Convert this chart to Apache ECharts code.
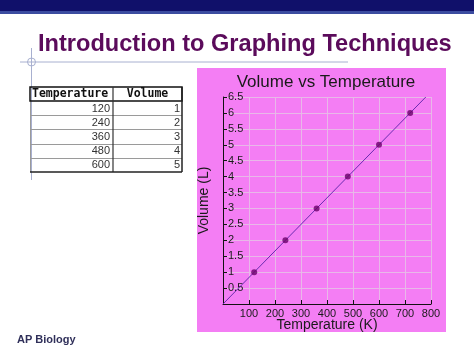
<!DOCTYPE html>
<html><head><meta charset="utf-8">
<script src="https://cdn.jsdelivr.net/npm/echarts@6/dist/echarts.min.js"></script>
<style>html,body{margin:0;padding:0;background:#fff}#c{width:474px;height:355px}</style>
</head><body><div id="c"></div>
<script>
// data
const temperatures = [120, 240, 360, 480, 600, 720];
const volumes = [1, 2, 3, 4, 5, 6];
const tableTemps = [120, 240, 360, 480, 600];
const tableVols = [1, 2, 3, 4, 5];
const tableHeaders = ['Temperature', 'Volume'];
const trendT = [0, 780];
const trendV = [0, 6.5];

const chart = echarts.init(document.getElementById('c'), null, {renderer: 'canvas'});

const g = [];
// top bars
g.push({type:'rect', shape:{x:0,y:0,width:474,height:11}, style:{fill:'#10106a'}, z:0});
g.push({type:'rect', shape:{x:0,y:11,width:474,height:3}, style:{fill:'#3c4ca0'}, z:0});
// slide title
g.push({type:'text', x:38, y:44, style:{text:'Introduction to Graphing Techniques', font:'bold 23.6px "Liberation Sans", Arial, sans-serif', fill:'#5b0b5b', textVerticalAlign:'middle'}, z:2});
// crosshair decorations
g.push({type:'line', shape:{x1:20,y1:62,x2:348,y2:62}, style:{stroke:'#a8b0d0', lineWidth:1}, z:1});
g.push({type:'line', shape:{x1:31.5,y1:48,x2:31.5,y2:180}, style:{stroke:'#a8b0d0', lineWidth:1}, z:1});
g.push({type:'circle', shape:{cx:31.5,cy:62,r:4}, style:{stroke:'#a8b0d0', fill:'none', lineWidth:1}, z:1});
// AP Biology
g.push({type:'text', x:17, y:340, style:{text:'AP Biology', font:'bold 11px "Liberation Sans", Arial, sans-serif', fill:'#30305a', textVerticalAlign:'middle'}, z:2});
// chart panel
g.push({type:'rect', shape:{x:197,y:68,width:249,height:264}, style:{fill:'#f47ef4'}, z:0});

// table
const tx0 = 30, tx1 = 113, tx2 = 182, ty0 = 87, hh = 14, rh = 14.2;
const ty1 = ty0 + hh;
const tyEnd = ty1 + rh * tableTemps.length;
for (let i = 1; i < tableTemps.length; i++) {
  const y = Math.round(ty1 + rh * i) + 0.5;
  g.push({type:'line', shape:{x1:tx0,y1:y,x2:tx2,y2:y}, style:{stroke:'#9a9a9a', lineWidth:1}, z:2});
}
g.push({type:'line', shape:{x1:tx0+0.5,y1:ty1,x2:tx0+0.5,y2:tyEnd}, style:{stroke:'#9a9a9a', lineWidth:1}, z:2});
g.push({type:'rect', shape:{x:tx0,y:ty0,width:tx2-tx0,height:hh}, style:{fill:'none', stroke:'#111', lineWidth:1.5}, z:3});
g.push({type:'line', shape:{x1:tx1,y1:ty0,x2:tx1,y2:tyEnd}, style:{stroke:'#333', lineWidth:1.2}, z:3});
g.push({type:'line', shape:{x1:tx2,y1:ty0,x2:tx2,y2:tyEnd}, style:{stroke:'#222', lineWidth:1.5}, z:3});
g.push({type:'line', shape:{x1:tx0,y1:tyEnd,x2:tx2,y2:tyEnd}, style:{stroke:'#222', lineWidth:1.5}, z:3});
g.push({type:'text', x:tx0+2, y:ty0+hh/2+0.5, style:{text:tableHeaders[0], font:'bold 11.5px "DejaVu Sans Mono", monospace', fill:'#111', textVerticalAlign:'middle'}, z:4});
g.push({type:'text', x:(tx1+tx2)/2, y:ty0+hh/2+0.5, style:{text:tableHeaders[1], font:'bold 11.5px "DejaVu Sans Mono", monospace', fill:'#111', textAlign:'center', textVerticalAlign:'middle'}, z:4});
tableTemps.forEach((t, i) => {
  const cy = ty1 + rh * i + rh / 2 + 0.5;
  g.push({type:'text', x:tx1-3, y:cy, style:{text:String(t), font:'11px "Liberation Sans", Arial, sans-serif', fill:'#333', textAlign:'right', textVerticalAlign:'middle'}, z:4});
  g.push({type:'text', x:tx2-2, y:cy, style:{text:String(tableVols[i]), font:'11px "Liberation Sans", Arial, sans-serif', fill:'#333', textAlign:'right', textVerticalAlign:'middle'}, z:4});
});

const option = {
  backgroundColor: '#ffffff',
  animation: false,
  title: {
    text: 'Volume vs Temperature', left: 321, top: 69, textAlign: 'center',
    textStyle: {fontFamily: '"Liberation Sans", Arial, sans-serif', fontSize: 17, fontWeight: 'normal', color: '#1a1a1a'}
  },
  grid: {left: 223, right: 43, top: 97, bottom: 51, containLabel: false},
  xAxis: {
    type: 'value', min: 0, max: 800, interval: 100,
    name: 'Temperature (K)', nameLocation: 'middle', nameGap: 14, nameMoveOverlap: false,
    nameTextStyle: {fontFamily: '"Liberation Sans", Arial, sans-serif', fontSize: 14, color: '#1a1a1a'},
    axisLine: {show: true, lineStyle: {color: '#111', width: 1}},
    axisTick: {show: true, inside: true, length: 4, lineStyle: {color: '#111'}},
    axisLabel: {fontFamily: '"Liberation Sans", Arial, sans-serif', fontSize: 11, color: '#1a1a1a', margin: 4,
      formatter: v => v === 0 ? '' : String(v)},
    splitLine: {show: true, lineStyle: {color: '#e8b8e8', width: 1}}
  },
  yAxis: {
    type: 'value', min: 0, max: 6.5, interval: 0.5,
    name: 'Volume (L)', nameLocation: 'middle', nameGap: 12, nameRotate: 90, nameMoveOverlap: false,
    nameTextStyle: {fontFamily: '"Liberation Sans", Arial, sans-serif', fontSize: 14, color: '#1a1a1a'},
    axisLine: {show: true, lineStyle: {color: '#111', width: 1}},
    axisTick: {show: true, inside: true, length: 4, lineStyle: {color: '#111'}},
    axisLabel: {inside: true, fontFamily: '"Liberation Sans", Arial, sans-serif', fontSize: 11, color: '#1a1a1a', margin: 5,
      formatter: v => v === 0 ? '' : String(v)},
    splitLine: {show: true, lineStyle: {color: '#e8b8e8', width: 1}}
  },
  series: [
    {type: 'line', data: trendT.map((t, i) => [t, trendV[i]]), symbol: 'none',
      lineStyle: {color: '#6a2cb0', width: 1}, z: 3},
    {type: 'scatter', data: temperatures.map((t, i) => [t, volumes[i]]), symbol: 'circle', symbolSize: 6,
      itemStyle: {color: '#6a006a'}, z: 4}
  ],
  graphic: g
};
chart.setOption(option);
</script>
</body></html>
